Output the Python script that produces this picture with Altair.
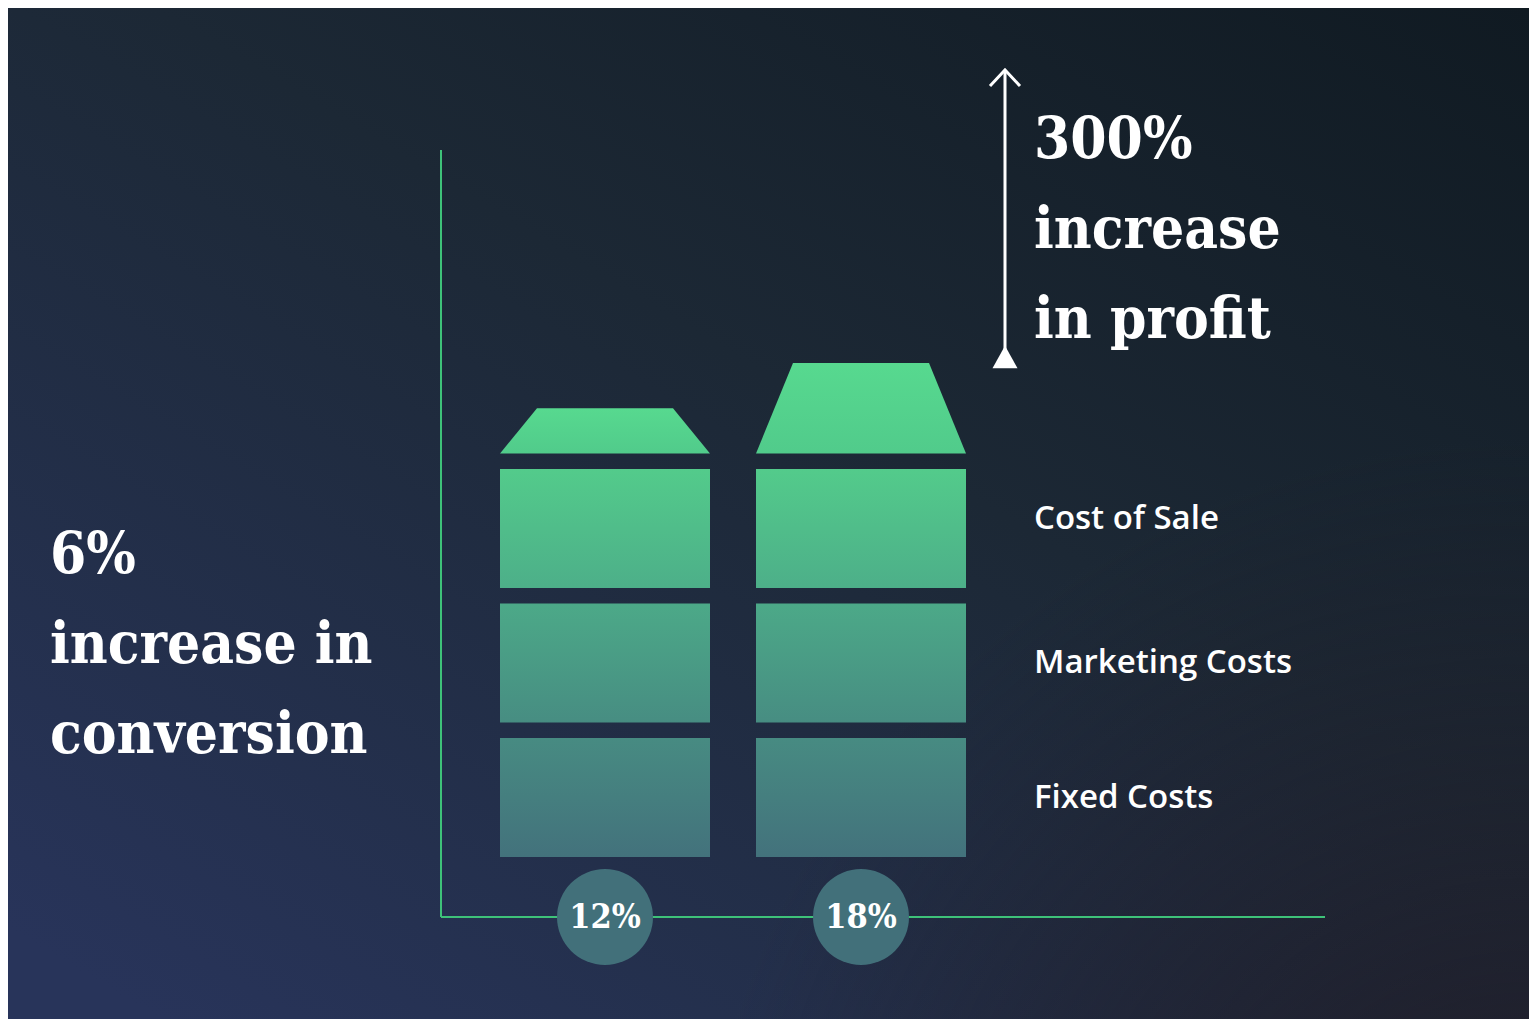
import altair as alt
import pandas as pd

# ---------------- data ----------------
bars = ["12%", "18%"]
segments = ["Fixed Costs", "Marketing Costs", "Cost of Sale"]
fixed_costs = [1.0, 1.0]
marketing_costs = [1.0, 1.0]
cost_of_sale = [1.0, 1.0]
profit = [0.38, 0.76]
left_lines = ["6%", "increase in", "conversion"]
right_lines = ["300%", "increase", "in profit"]

# ---------------- layout (styles) ----------------
W, H = 1521, 1011
X_C0, X_U = 605.0, 256.0     # bar spacing
Y_B, Y_U = 917.0, 119.0      # baseline / block unit
xs = alt.Scale(domain=[(8 - X_C0) / X_U, (8 + W - X_C0) / X_U], nice=False, zero=False)
ys = alt.Scale(domain=[(Y_B - 8 - H) / Y_U, (Y_B - 8) / Y_U], nice=False, zero=False)
BASE = 60 / Y_U
GAP = 15.5 / Y_U
HALF = 105 / X_U
TOP_HALF = 68 / X_U
AX_X = (441 - X_C0) / X_U
AX_END = (1325 - X_C0) / X_U
AX_TOP = (Y_B - 150) / Y_U
LABEL_X = (1034 - X_C0) / X_U
LABEL_OFF = {"Fixed Costs": 10, "Marketing Costs": 10, "Cost of Sale": 0}

SERIF = "'DejaVu Serif Condensed', 'DejaVu Serif', serif"
SANS = "'Open Sans', 'Lato', sans-serif"


def vgrad(top, bottom):
    return alt.LinearGradient(
        gradient="linear",
        stops=[alt.GradientStop(color=top, offset=0), alt.GradientStop(color=bottom, offset=1)],
        x1=0, x2=0, y1=0, y2=1,
    )


# ---------------- derived tables ----------------
rows, traps = [], []
for i, b in enumerate(bars):
    y = BASE
    for seg, vals in zip(segments, [fixed_costs, marketing_costs, cost_of_sale]):
        v = vals[i]
        rows.append(dict(bar=b, seg=seg, x0=i - HALF, x1=i + HALF, y0=y, y1=y + v))
        y += v + GAP
    top = y + profit[i]
    for k, (px, py) in enumerate([(i - HALF, y), (i - TOP_HALF, top), (i + TOP_HALF, top), (i + HALF, y)]):
        traps.append(dict(bar=b, k=k, tx=px, ty=py, tbase=y))
seg_df = pd.DataFrame(rows)
trap_df = pd.DataFrame(traps)
bar_df = pd.DataFrame({"bar": bars, "i": list(range(len(bars))), "y": [0.0] * len(bars)})
axis_df = pd.DataFrame({"x": [AX_X, AX_X], "x2": [AX_X, AX_END], "y": [0.0, 0.0], "y2": [AX_TOP, 0.0]})
lab_df = seg_df[seg_df.bar == bars[0]].copy()
lab_df["ym"] = (lab_df.y0 + lab_df.y1) / 2 - lab_df.seg.map(LABEL_OFF) / Y_U
lab_df["lx"] = LABEL_X
left_df = pd.DataFrame({"line": left_lines, "py": [565 + 90 * k for k in range(len(left_lines))]})
right_df = pd.DataFrame({"line": right_lines, "py": [150 + 90 * k for k in range(len(right_lines))]})
one = pd.DataFrame({"a": [0]})

# ---------------- layers ----------------
bg = alt.Chart(one).mark_rect(
    color=alt.LinearGradient(
        gradient="linear",
        stops=[
            alt.GradientStop(color="#101a22", offset=0),
            alt.GradientStop(color="#1c2835", offset=0.45),
            alt.GradientStop(color="#28345a", offset=1),
        ],
        x1=1, y1=0, x2=0.1, y2=1,
    )
).encode(x=alt.value(0), x2=alt.value(W), y=alt.value(0), y2=alt.value(H))

bg2 = alt.Chart(one).mark_rect(
    color=alt.RadialGradient(
        gradient="radial",
        stops=[
            alt.GradientStop(color="rgba(32,28,38,0.95)", offset=0),
            alt.GradientStop(color="rgba(32,28,38,0)", offset=1),
        ],
        x1=1, y1=1, r1=0, x2=1, y2=1, r2=0.55,
    )
).encode(x=alt.value(0), x2=alt.value(W), y=alt.value(0), y2=alt.value(H))

axis_lines = alt.Chart(axis_df).mark_rule(color="#3ec279", strokeWidth=2).encode(
    x=alt.X("x:Q", scale=xs, axis=None), x2="x2:Q",
    y=alt.Y("y:Q", scale=ys, axis=None), y2="y2:Q",
)

seg_colors = {
    "Fixed Costs": ("#478b82", "#43727c"),
    "Marketing Costs": ("#4ca988", "#478d82"),
    "Cost of Sale": ("#53cb8b", "#4daf89"),
}
seg_layers = [
    alt.Chart(seg_df).transform_filter(alt.datum.seg == s).mark_rect(color=vgrad(*c)).encode(
        x=alt.X("x0:Q", scale=xs, axis=None), x2="x1:Q",
        y=alt.Y("y0:Q", scale=ys, axis=None), y2="y1:Q",
    )
    for s, c in seg_colors.items()
]

trap_layers = [
    alt.Chart(trap_df).transform_filter(alt.datum.bar == b).mark_area(
        color=vgrad("#57d98f", "#51cb8b"), interpolate="linear", orient="vertical", opacity=1
    ).encode(
        x=alt.X("tx:Q", scale=xs, axis=None),
        y=alt.Y("ty:Q", scale=ys, axis=None, stack=None), y2=alt.Y2("tbase:Q"),
    )
    for b in bars
]

circles = alt.Chart(bar_df).mark_circle(size=9216, color="#42707a", opacity=1).encode(
    x=alt.X("i:Q", scale=xs, axis=None), y=alt.Y("y:Q", scale=ys, axis=None)
)
circle_text = alt.Chart(bar_df).mark_text(
    font=SERIF, fontWeight="bold", fontSize=34, color="white", baseline="middle", dy=1
).encode(x=alt.X("i:Q", scale=xs, axis=None), y=alt.Y("y:Q", scale=ys, axis=None), text="bar:N")

seg_labels = alt.Chart(lab_df).mark_text(
    font=SANS, fontWeight=600, fontSize=33, color="white", align="left", baseline="alphabetic"
).encode(x=alt.X("lx:Q", scale=xs, axis=None), y=alt.Y("ym:Q", scale=ys, axis=None), text="seg:N")

left_text = alt.Chart(left_df).mark_text(
    font=SERIF, fontWeight="bold", fontSize=58, color="white", align="left", baseline="alphabetic"
).encode(x=alt.value(42), y=alt.Y("py:Q", scale=None), text="line:N")

right_text = alt.Chart(right_df).mark_text(
    font=SERIF, fontWeight="bold", fontSize=58, color="white", align="left", baseline="alphabetic"
).encode(x=alt.value(1026), y=alt.Y("py:Q", scale=None), text="line:N")

arrow_shaft = alt.Chart(one).mark_rule(color="white", strokeWidth=3).encode(
    x=alt.value(997), y=alt.value(62), y2=alt.value(345)
)
arrow_head = alt.Chart(one).mark_point(
    shape="M-1,0.53L0,-0.53L1,0.53", filled=False, stroke="white", strokeWidth=3, size=900, opacity=1
).encode(x=alt.value(997), y=alt.value(70))
arrow_tail = alt.Chart(one).mark_point(
    shape="M0,-0.9L1,0.9L-1,0.9Z", filled=True, color="white", size=625, opacity=1
).encode(x=alt.value(997), y=alt.value(349))

chart = alt.layer(
    bg, bg2, axis_lines, *seg_layers, *trap_layers, circles, circle_text, seg_labels,
    left_text, right_text, arrow_shaft, arrow_head, arrow_tail,
).properties(
    width=W, height=H, padding=0, autosize=alt.AutoSizeParams(type="none"), background="#1c2834"
).configure_view(stroke=None)

chart.save("out.html", embed_options={"renderer": "svg", "actions": False})
